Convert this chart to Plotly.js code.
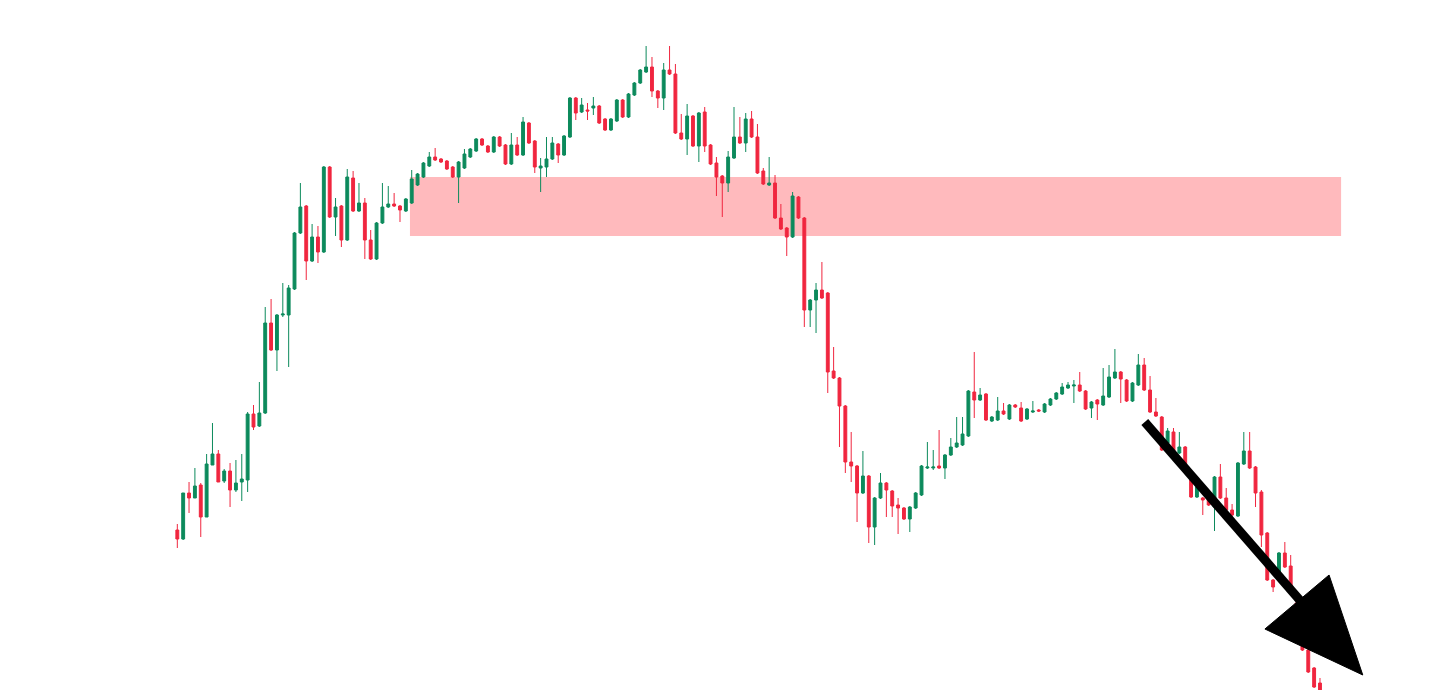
<!DOCTYPE html>
<html>
<head>
<meta charset="utf-8">
<script src="https://cdn.plot.ly/plotly-3.0.1.min.js"></script>
<style>
html,body{margin:0;padding:0;background:#ffffff;}
#chart{width:1440px;height:690px;}
</style>
</head>
<body>
<div id="chart"></div>
<script>
// OHLC values (arbitrary price units)
const open = [
160,151,197,192,205,173,225,236,209,219,
200,208,210,276,264,277,367,340,375,375,
401,457,484,429,453,438,523,473,484,450,
512,479,487,450,431,467,483,486,484,479,
487,505,513,524,533,531,529,523,513,522,
533,539,551,544,538,553,545,526,545,535,
567,549,522,523,531,546,535,553,592,578,
580,582,584,571,560,569,590,573,595,607,
618,623,599,592,620,616,557,551,574,544,
578,545,527,514,507,532,553,547,571,553,
519,505,507,472,462,453,493,472,380,390,
400,397,319,312,284,228,224,197,214,163,
192,207,199,185,182,171,182,195,222,222,
224,222,235,243,245,254,298,290,296,269,
270,279,271,285,282,271,278,280,278,285,
291,296,302,304,305,299,282,290,285,293,
312,318,310,289,305,325,300,278,273,247,
258,237,243,210,193,192,193,183,213,192,
180,174,226,239,223,198,157,110,115,137,
124,87,73,40,22,7
];
const high = [
166,197,208,222,207,236,267,240,221,227,
230,236,278,285,308,383,391,376,407,405,
458,507,485,466,464,524,524,492,485,521,
519,507,492,460,468,507,504,497,485,492,
520,517,528,538,542,532,530,524,529,541,
542,552,552,545,554,554,546,557,553,573,
568,550,532,553,553,547,555,593,593,592,
587,593,585,572,572,591,591,597,608,621,
644,633,600,627,644,626,576,586,575,578,
583,546,533,515,539,583,573,577,579,566,
522,533,515,486,463,498,494,473,391,407,
428,398,343,313,285,258,225,239,215,193,
217,208,200,192,183,184,198,225,248,240,
260,236,252,273,273,300,338,302,297,274,
293,287,286,286,288,282,289,281,287,292,
298,307,308,310,318,300,289,291,322,325,
341,319,311,308,336,332,314,292,274,262,
262,258,244,211,204,193,194,214,226,202,
186,228,258,258,224,200,158,111,138,148,
135,88,74,41,23,12
];
const low = [
142,150,177,192,153,173,225,208,207,183,
198,189,198,260,263,276,339,319,373,323,
400,456,410,428,427,437,472,454,443,449,
478,478,431,430,430,466,482,483,468,478,
486,504,512,523,529,527,520,512,487,521,
532,538,544,537,537,543,525,525,534,534,
546,517,498,513,530,527,534,552,570,577,
570,575,566,559,559,568,572,572,594,606,
617,593,582,580,615,556,550,535,543,528,
538,525,494,473,498,531,546,538,552,516,
505,504,471,460,434,452,471,363,363,357,
391,297,311,243,217,208,168,196,147,145,
191,173,173,156,170,158,181,194,221,220,
221,211,234,242,244,253,272,289,269,268,
269,275,270,282,268,270,277,278,277,284,
290,295,301,287,298,280,272,270,284,292,
311,287,288,288,304,299,277,273,239,246,
237,236,219,192,192,175,184,159,191,179,
170,173,225,221,183,143,109,98,114,122,
99,72,39,17,2,-4
];
const close = [
151,197,192,204,173,226,236,208,219,200,
207,211,276,263,277,367,340,375,376,402,
457,483,429,453,438,523,473,483,450,513,
479,487,450,431,467,483,486,484,480,491,
511,516,527,533,530,528,521,513,528,536,
541,551,545,538,553,544,526,545,535,568,
547,523,524,531,547,535,554,592,577,585,
579,584,567,560,571,590,573,596,607,620,
623,599,592,620,616,557,551,574,544,577,
544,526,513,507,533,553,547,571,553,517,
506,507,472,461,453,494,472,380,390,400,
392,318,312,284,228,224,197,214,163,192,
207,200,184,182,171,183,197,224,223,223,
222,235,243,247,256,299,290,295,270,273,
279,276,285,283,269,281,279,279,286,291,
297,303,305,305,299,281,288,286,294,313,
318,311,289,307,325,300,278,274,240,259,
238,243,220,193,203,190,185,213,192,180,
175,227,239,222,197,155,110,103,137,123,
100,73,40,18,3,-2
];

// Resistance zone (candle index span and price band)
const zoneX = [39.7, 198.6];
const zoneY = [454, 513];

// Bearish arrow: shaft start, shaft end, head triangle (index, price)
const arrowShaftX = [165.1, 194.2];
const arrowShaftY = [268, 72];
const arrowHeadX = [196.55, 185.6, 202.3];
const arrowHeadY = [115, 61, 15];

const GREEN = '#0c8a5c';
const RED = '#f0263f';

const idx = open.map((_, i) => i);

const candles = {
  type: 'candlestick',
  x: idx,
  open: open, high: high, low: low, close: close,
  increasing: {line: {color: GREEN, width: 1}, fillcolor: GREEN},
  decreasing: {line: {color: RED, width: 1}, fillcolor: RED},
  whiskerwidth: 0,
  hoverinfo: 'skip',
  showlegend: false
};

const shaft = {
  type: 'scatter', mode: 'lines',
  x: arrowShaftX, y: arrowShaftY,
  line: {color: '#000000', width: 9},
  hoverinfo: 'skip', showlegend: false
};

const headPath = 'M ' + arrowHeadX[0] + ',' + arrowHeadY[0] +
  ' L ' + arrowHeadX[1] + ',' + arrowHeadY[1] +
  ' L ' + arrowHeadX[2] + ',' + arrowHeadY[2] + ' Z';

const layout = {
  width: 1440, height: 690,
  margin: {l: 0, r: 0, t: 0, b: 0},
  paper_bgcolor: '#ffffff',
  plot_bgcolor: '#ffffff',
  showlegend: false,
  xaxis: {visible: false, range: [-30.26, 215.48], rangeslider: {visible: false}, fixedrange: true},
  yaxis: {visible: false, range: [0, 690], fixedrange: true},
  shapes: [
    {type: 'rect', xref: 'x', yref: 'y', x0: zoneX[0], x1: zoneX[1], y0: zoneY[0], y1: zoneY[1],
     fillcolor: '#ffbabd', line: {width: 0}, layer: 'below'},
    {type: 'path', xref: 'x', yref: 'y', path: headPath,
     fillcolor: '#000000', line: {color: '#000000', width: 1}, layer: 'above'}
  ]
};

Plotly.newPlot('chart', [candles, shaft], layout, {displayModeBar: false, staticPlot: true});
</script>
</body>
</html>
